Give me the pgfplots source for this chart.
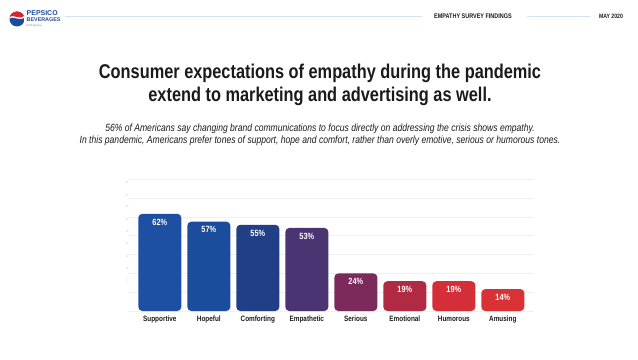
\documentclass[border=0pt]{standalone}
\usepackage{pgfplots}
\pgfplotsset{compat=1.18}
\usepackage{fontspec}
\setmainfont{Liberation Sans}[FakeStretch=0.82]
\newfontfamily\wide{Liberation Sans}
\definecolor{cSup}{HTML}{1D4FA3}
\definecolor{cHop}{HTML}{1C4C9C}
\definecolor{cCom}{HTML}{213F86}
\definecolor{cEmp}{HTML}{4A3572}
\definecolor{cSer}{HTML}{7B2A5B}
\definecolor{cEmo}{HTML}{B02A44}
\definecolor{cHum}{HTML}{D42E38}
\definecolor{cAmu}{HTML}{D83236}
\definecolor{pblue}{HTML}{1E4A9A}
\definecolor{pred}{HTML}{D8252F}
\definecolor{hline}{HTML}{D4E1EE}
\definecolor{txt}{HTML}{1A1A1A}
\newcommand{\fs}[1]{\fontsize{#1}{#1}\selectfont}
\begin{document}
\begin{tikzpicture}[x=1bp,y=1bp]
\path[use as bounding box] (0,0) rectangle (638,359);
% logo
\begin{scope}
\clip (17,340) circle (7.5);
\fill[pblue] (9,332) rectangle (25,348);
\fill[pred] (9,348) -- (9,341) .. controls (13,345) and (20,337) .. (25,343) -- (25,348) -- cycle;
\draw[white, line width=1.4bp] (9,341) .. controls (13,345) and (20,337) .. (25,343);
\end{scope}
\node[anchor=west, inner sep=0, text=pblue] at (26.5,345.8) {\wide\fs{7}\bfseries PEPSICO};
\node[anchor=west, inner sep=0, text=pblue] at (26.5,339.3) {\wide\fs{5.4}\bfseries BEVERAGES};
\node[anchor=west, inner sep=0, text=pblue!70] at (26.5,333.8) {\fs{2.8}North America};
% header lines
\draw[hline, line width=1bp] (65,342.5) -- (422,342.5);
\node[inner sep=0, text=txt] at (473,342.3) {\fs{6.7}\bfseries EMPATHY SURVEY FINDINGS};
\draw[hline, line width=1bp] (527,342.5) -- (590,342.5);
\node[inner sep=0, text=txt] at (611,342.3) {\fs{6.3}\bfseries MAY 2020};
% title
\node[inner sep=0, text=txt, anchor=base] at (320,281) {\fs{20}\bfseries Consumer expectations of empathy during the pandemic};
\node[inner sep=0, text=txt, anchor=base] at (320,258) {\fs{20}\bfseries extend to marketing and advertising as well.};
% subtitle
\node[inner sep=0, text=txt, anchor=base] at (320,228) {\fs{10.5}\itshape 56\% of Americans say changing brand communications to focus directly on addressing the crisis shows empathy.};
\node[inner sep=0, text=txt, anchor=base] at (320,216) {\fs{10.5}\itshape In this pandemic, Americans prefer tones of support, hope and comfort, rather than overly emotive, serious or humorous tones.};
\begin{axis}[
  at={(128bp,48bp)}, anchor=south west,
  scale only axis, width=405.7bp, height=131.7bp,
  xmin=-0.65, xmax=7.63, ymin=0, ymax=84,
  axis line style={draw=none},
  tick style={draw=none},
  ytick={0,12,...,84},
  yticklabels={,,,,,,,},
  ymajorgrids,
  major grid style={draw=gray!12, line width=0.6bp},
  extra y ticks={81.9,74,66.4,58.7,50.9,43.1,35.1,27.4,19.3},
  extra y tick labels={80,70,60,50,40,30,20,10,0},
  extra y tick style={grid=none, yticklabel style={font=\fs{3}, text=gray!45, xshift=4bp}},
  xtick={0,...,7},
  xticklabels={Supportive,Hopeful,Comforting,Empathetic,Serious,Emotional,Humorous,Amusing},
  xticklabel style={font=\fs{7.8}\bfseries, text=txt, yshift=3bp},
  /pgf/number format/assume math mode=true,
  ybar, bar width=43bp, bar shift=0pt,
  nodes near coords={\pgfmathprintnumber{\pgfplotspointmeta}\%},
  every node near coord/.append style={anchor=north, yshift=-1.5bp, text=white, font=\fs{9}\bfseries},
  clip=false,
]
\addplot[fill=cSup, draw=none, rounded corners=4bp] coordinates {(0,62)};
\addplot[fill=cHop, draw=none, rounded corners=4bp] coordinates {(1,57)};
\addplot[fill=cCom, draw=none, rounded corners=4bp] coordinates {(2,55)};
\addplot[fill=cEmp, draw=none, rounded corners=4bp] coordinates {(3,53)};
\addplot[fill=cSer, draw=none, rounded corners=4bp] coordinates {(4,24)};
\addplot[fill=cEmo, draw=none, rounded corners=4bp] coordinates {(5,19)};
\addplot[fill=cHum, draw=none, rounded corners=4bp] coordinates {(6,19)};
\addplot[fill=cAmu, draw=none, rounded corners=4bp] coordinates {(7,14)};
\end{axis}
\end{tikzpicture}
\end{document}
